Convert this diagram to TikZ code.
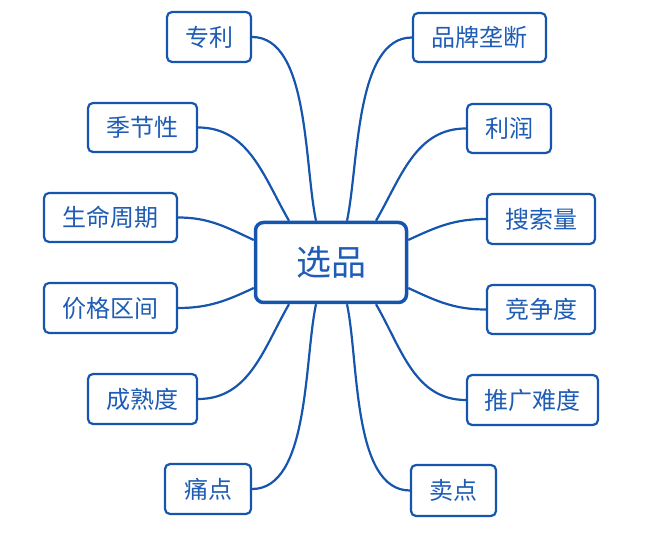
\documentclass[tikz,border=0pt]{standalone}
\usepackage{fontspec}
\setmainfont{Noto Sans CJK SC}
\definecolor{ln}{HTML}{1655AE}
\definecolor{tx}{HTML}{1E5CB5}
\begin{document}
\begin{tikzpicture}[x=1pt,y=-1pt,
  childbox/.style={draw=ln, line width=2.2pt, rounded corners=5pt, fill=white, text=tx,
    font=\fontsize{24}{24}\selectfont, inner sep=0pt},
  rootbox/.style={draw=ln, line width=3.5pt, rounded corners=8pt, fill=white, text=tx,
    font=\fontsize{35}{35}\selectfont, inner sep=0pt, minimum width=151pt, minimum height=80pt},
  conn/.style={draw=ln, line width=2.2pt}]
\useasboundingbox (0,0) rectangle (662,534);
\node[rootbox] (c) at (331,262.5) {选品};
\node[childbox, minimum width=84pt, minimum height=50pt] (zl) at (209,37) {专利};
\node[childbox, minimum width=133pt, minimum height=49pt] (pp) at (479.5,37.5) {品牌垄断};
\node[childbox, minimum width=109pt, minimum height=49pt] (jj) at (142.5,127.5) {季节性};
\node[childbox, minimum width=84pt, minimum height=49pt] (lr) at (509,128.5) {利润};
\node[childbox, minimum width=133pt, minimum height=49pt] (sm) at (110.5,217.5) {生命周期};
\node[childbox, minimum width=108pt, minimum height=50pt] (ss) at (541,219) {搜索量};
\node[childbox, minimum width=133pt, minimum height=50pt] (jg) at (110.5,308) {价格区间};
\node[childbox, minimum width=108pt, minimum height=49pt] (jz) at (541,309.5) {竞争度};
\node[childbox, minimum width=109pt, minimum height=50pt] (cs) at (142.5,399) {成熟度};
\node[childbox, minimum width=131pt, minimum height=50pt] (tg) at (532.5,400) {推广难度};
\node[childbox, minimum width=86pt, minimum height=50pt] (td) at (208,489) {痛点};
\node[childbox, minimum width=85pt, minimum height=51pt] (md) at (453.5,490.5) {卖点};
% connectors
\draw[conn] (zl.east) to[out=0,in=102,looseness=0.75] ([xshift=-15pt]c.north);
\draw[conn] (jj.east) to[out=0,in=120] ([xshift=-42pt]c.north);
\draw[conn] (pp.west) to[out=180,in=78,looseness=0.75] ([xshift=16pt]c.north);
\draw[conn] (lr.west) to[out=180,in=60] ([xshift=45pt]c.north);
\draw[conn] (sm.east) to[out=0,in=155] ([yshift=22.5pt]c.west);
\draw[conn] (jg.east) to[out=0,in=205] ([yshift=-25.5pt]c.west);
\draw[conn] (ss.west) to[out=180,in=25] ([yshift=22.5pt]c.east);
\draw[conn] (jz.west) to[out=180,in=-25] ([yshift=-25.5pt]c.east);
\draw[conn] (cs.east) to[out=0,in=240] ([xshift=-42pt]c.south);
\draw[conn] (td.east) to[out=0,in=258,looseness=0.75] ([xshift=-15pt]c.south);
\draw[conn] (md.west) to[out=180,in=282,looseness=0.75] ([xshift=16pt]c.south);
\draw[conn] (tg.west) to[out=180,in=300] ([xshift=45pt]c.south);
\end{tikzpicture}
\end{document}
